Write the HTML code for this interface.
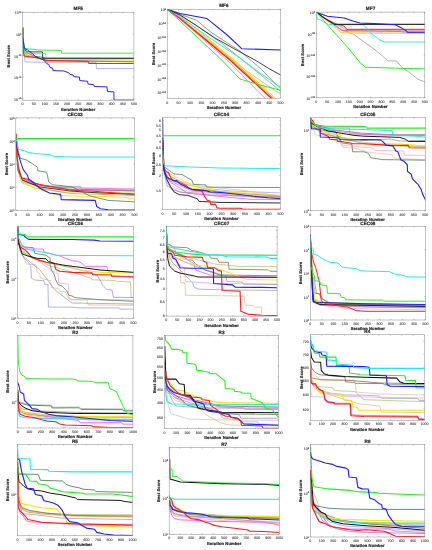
<!DOCTYPE html><html><head><meta charset="utf-8"><style>html,body{margin:0;padding:0;background:#fff;}svg{display:block}text{text-rendering:geometricPrecision;font-family:"Liberation Sans",Arial,sans-serif;fill:#333;stroke:#333;stroke-width:0.08px}.t{font-size:3.6px}.b{font-weight:bold;font-size:4.1px;fill:#262626;stroke:#262626;stroke-width:0.2px;letter-spacing:0.1px}.ti{font-size:4.6px}</style></head><body>
<svg width="432" height="550" viewBox="0 0 432 550">
<rect width="432" height="550" fill="#fff"/><g>
<g><clipPath id="c0"><rect x="22.6" y="12.2" width="111.3" height="88"/></clipPath><g clip-path="url(#c0)" fill="none" stroke-linejoin="round" stroke-linecap="butt"><polyline points="22.9,30 23.6,52 25.2,62 45,62.3 96.2,62.5 96.4,68.5 134.9,68.5" stroke="#8f8fe8" stroke-width="0.62"/><polyline points="22.9,30 23.8,52 25.5,57.5 45,58 45.5,61.5 134.9,61.5" stroke="#d8b890" stroke-width="0.62"/><polyline points="22.9,28 23.6,50 25,56.5 35,57.5 45,60 134.9,61.3" stroke="#e08a2a" stroke-width="0.7"/><polyline points="22.9,28 23.8,50 26,55 40,58 46,60.5 134.9,62" stroke="#8b5a2b" stroke-width="0.62"/><polyline points="22.9,28 23.8,50 25,54 30,55.5 46,58.5 88,59.5 134.9,60.2" stroke="#f5e400" stroke-width="0.88"/><polyline points="22.9,28 23.6,48 25,52 34,56 46,57.8 134.9,58.2" stroke="#4f7f5a" stroke-width="0.79"/><polyline points="22.9,27 23.5,45 25,50 27.5,51.9 42.5,51.9 42.7,58.6 134.9,58.6" stroke="#111111" stroke-width="0.79"/><polyline points="22.9,28 23.5,45 24.5,52 26,53.7 45.6,53.7 46,57.6 134.9,57.6" stroke="#22e8e8" stroke-width="0.88"/><polyline points="22.9,29 23.3,50 24,56 32,57 40,58.5 46,60.5 88.5,61.3 88.6,63.5 134.9,63.5" stroke="#ff1a1a" stroke-width="0.97"/><polyline points="22.9,28 23.5,42 25,48.5 29.4,49 36,49.5 38.75,50 61.25,50.5 61.5,53.2 134.9,53.2" stroke="#22ee22" stroke-width="0.88"/><polyline points="22.7,37.5 24.4,48.1 27.5,50 31.9,53.1 35,56.25 38.75,58.1 42.5,59.4 45,61.25 46.9,63.75 48.75,64.4 50,67.5 52.5,68.1 53.1,70.6 63.75,71 68.75,72.75 70,74.4 73.1,75 73.75,76.6 79.4,77.1 79.75,80.6 87.5,81.25 88.1,84 93.75,84.75 94.4,86.5 107,86.9 107.5,91.5 113.9,91.9 114,100.1 134.9,100.1" stroke="#1f1fff" stroke-width="0.97"/></g><rect x="22.6" y="12.2" width="111.3" height="88" fill="none" stroke="#888888" stroke-width="0.5"/><text class="t" x="22.6" y="105.4" text-anchor="middle">0</text><text class="t" x="33.73" y="105.4" text-anchor="middle">50</text><text class="t" x="44.86" y="105.4" text-anchor="middle">100</text><text class="t" x="55.99" y="105.4" text-anchor="middle">150</text><text class="t" x="67.12" y="105.4" text-anchor="middle">200</text><text class="t" x="78.25" y="105.4" text-anchor="middle">250</text><text class="t" x="89.38" y="105.4" text-anchor="middle">300</text><text class="t" x="100.51" y="105.4" text-anchor="middle">350</text><text class="t" x="111.64" y="105.4" text-anchor="middle">400</text><text class="t" x="122.77" y="105.4" text-anchor="middle">450</text><text class="t" x="133.9" y="105.4" text-anchor="middle">500</text><text class="t" x="21.4" y="14.3" text-anchor="end">10<tspan dy="-1.4" font-size="2.4">10</tspan></text><text class="t" x="21.4" y="36" text-anchor="end">10<tspan dy="-1.4" font-size="2.4">0</tspan></text><text class="t" x="21.4" y="57.6" text-anchor="end">10<tspan dy="-1.4" font-size="2.4">-10</tspan></text><text class="t" x="21.4" y="79.2" text-anchor="end">10<tspan dy="-1.4" font-size="2.4">-20</tspan></text><text class="t" x="21.4" y="100.8" text-anchor="end">10<tspan dy="-1.4" font-size="2.4">-30</tspan></text><path d="M22.6 100.2v-1.1M22.6 12.2v1.1M33.73 100.2v-1.1M33.73 12.2v1.1M44.86 100.2v-1.1M44.86 12.2v1.1M55.99 100.2v-1.1M55.99 12.2v1.1M67.12 100.2v-1.1M67.12 12.2v1.1M78.25 100.2v-1.1M78.25 12.2v1.1M89.38 100.2v-1.1M89.38 12.2v1.1M100.51 100.2v-1.1M100.51 12.2v1.1M111.64 100.2v-1.1M111.64 12.2v1.1M122.77 100.2v-1.1M122.77 12.2v1.1M133.9 100.2v-1.1M133.9 12.2v1.1M22.6 12.3h1.1M133.9 12.3h-1.1M22.6 34h1.1M133.9 34h-1.1M22.6 55.6h1.1M133.9 55.6h-1.1M22.6 77.2h1.1M133.9 77.2h-1.1M22.6 98.8h1.1M133.9 98.8h-1.1" stroke="#888888" stroke-width="0.5" fill="none"/><text class="b" x="78.25" y="110.6" text-anchor="middle">Iteration Number</text><text class="b ti" x="78.25" y="10.2" text-anchor="middle">MF5</text><text class="b" x="10.5" y="56.2" text-anchor="middle" transform="rotate(-90 10.5 56.2)">Best Score</text></g>
<g><clipPath id="c1"><rect x="167.2" y="9.3" width="113.4" height="89.1"/></clipPath><g clip-path="url(#c1)" fill="none" stroke-linejoin="round" stroke-linecap="butt"><polyline points="167.2,9.3 182,17 210,40 245,70 281.6,95" stroke="#a8c060" stroke-width="0.7"/><polyline points="167.2,9.3 180,14.2 196.7,20.4 212,33 240,51 260,68 281.6,90" stroke="#4f7f5a" stroke-width="0.7"/><polyline points="167.2,9.3 182,16.5 200,28 220,42 250,66 281.6,92" stroke="#8a8a8a" stroke-width="0.7"/><polyline points="167.2,9.3 180,14.9 193.9,23.9 214.7,37.8 233.3,48.3 255,60 270,69.2 281.6,75.5" stroke="#111111" stroke-width="0.79"/><polyline points="167.2,9.3 180,17 210,38 240,58 260,73 281.6,88" stroke="#22e8e8" stroke-width="0.97"/><polyline points="167.2,9.3 180,18 232,60 273.5,98.4" stroke="#e08a2a" stroke-width="0.88"/><polyline points="167.2,9.3 180,18 234,60 275.5,98.4" stroke="#f5e400" stroke-width="1.23"/><polyline points="167.2,9.3 180,18.5 230,60 271.7,98.4" stroke="#ff1a1a" stroke-width="1.41"/><polyline points="167.2,9.3 180,19.2 227,60 265,98.4" stroke="#ff4dff" stroke-width="0.7"/><polyline points="167.2,9.3 180,21 221.7,60 240,79 260,85 281.6,90.5" stroke="#22ee22" stroke-width="0.97"/><polyline points="167.2,9.3 180,13.5 207,18.6 227.2,35 241.7,48.7 281.6,50" stroke="#1f1fff" stroke-width="1.06"/></g><rect x="167.2" y="9.3" width="113.4" height="89.1" fill="none" stroke="#888888" stroke-width="0.5"/><text class="t" x="167.2" y="103.6" text-anchor="middle">0</text><text class="t" x="178.54" y="103.6" text-anchor="middle">50</text><text class="t" x="189.88" y="103.6" text-anchor="middle">100</text><text class="t" x="201.22" y="103.6" text-anchor="middle">150</text><text class="t" x="212.56" y="103.6" text-anchor="middle">200</text><text class="t" x="223.9" y="103.6" text-anchor="middle">250</text><text class="t" x="235.24" y="103.6" text-anchor="middle">300</text><text class="t" x="246.58" y="103.6" text-anchor="middle">350</text><text class="t" x="257.92" y="103.6" text-anchor="middle">400</text><text class="t" x="269.26" y="103.6" text-anchor="middle">450</text><text class="t" x="280.6" y="103.6" text-anchor="middle">500</text><text class="t" x="166" y="11.3" text-anchor="end">10<tspan dy="-1.4" font-size="2.4">0</tspan></text><text class="t" x="166" y="25.2" text-anchor="end">10<tspan dy="-1.4" font-size="2.4">-50</tspan></text><text class="t" x="166" y="39" text-anchor="end">10<tspan dy="-1.4" font-size="2.4">-100</tspan></text><text class="t" x="166" y="53" text-anchor="end">10<tspan dy="-1.4" font-size="2.4">-150</tspan></text><text class="t" x="166" y="66.7" text-anchor="end">10<tspan dy="-1.4" font-size="2.4">-200</tspan></text><text class="t" x="166" y="80.6" text-anchor="end">10<tspan dy="-1.4" font-size="2.4">-250</tspan></text><text class="t" x="166" y="94.4" text-anchor="end">10<tspan dy="-1.4" font-size="2.4">-300</tspan></text><path d="M167.2 98.4v-1.1M167.2 9.3v1.1M178.54 98.4v-1.1M178.54 9.3v1.1M189.88 98.4v-1.1M189.88 9.3v1.1M201.22 98.4v-1.1M201.22 9.3v1.1M212.56 98.4v-1.1M212.56 9.3v1.1M223.9 98.4v-1.1M223.9 9.3v1.1M235.24 98.4v-1.1M235.24 9.3v1.1M246.58 98.4v-1.1M246.58 9.3v1.1M257.92 98.4v-1.1M257.92 9.3v1.1M269.26 98.4v-1.1M269.26 9.3v1.1M280.6 98.4v-1.1M280.6 9.3v1.1M167.2 9.3h1.1M280.6 9.3h-1.1M167.2 23.2h1.1M280.6 23.2h-1.1M167.2 37h1.1M280.6 37h-1.1M167.2 51h1.1M280.6 51h-1.1M167.2 64.7h1.1M280.6 64.7h-1.1M167.2 78.6h1.1M280.6 78.6h-1.1M167.2 92.4h1.1M280.6 92.4h-1.1" stroke="#888888" stroke-width="0.5" fill="none"/><text class="b" x="223.9" y="108.8" text-anchor="middle">Iteration Number</text><text class="b ti" x="223.9" y="7.3" text-anchor="middle">MF6</text><text class="b" x="155" y="53.85" text-anchor="middle" transform="rotate(-90 155 53.85)">Best Score</text></g>
<g><clipPath id="c2"><rect x="316.3" y="12.1" width="108.5" height="85.7"/></clipPath><g clip-path="url(#c2)" fill="none" stroke-linejoin="round" stroke-linecap="butt"><polyline points="316.4,12.2 325,19 339.8,28.8 353.7,34.4 366,43.4 373,48.3 381.7,55.3 387.9,60.9 396.3,60.9 402.5,67.8 408.75,72 418,79.25 423.3,81.3 425.8,82.4" stroke="#8a8a8a" stroke-width="0.7"/><polyline points="316.4,12.2 325,19 335,27 342,32.5 425.8,32.8" stroke="#d8b890" stroke-width="0.62"/><polyline points="316.4,12.2 325,19 335,28 341,32.8 371.6,33.5 425.8,33.5" stroke="#f5e400" stroke-width="0.88"/><polyline points="316.4,12.2 326,19 336,26 342,30.5 400,31.5 407.7,32.3 425.8,32.3" stroke="#b070d0" stroke-width="0.97"/><polyline points="316.4,12.2 326,19 335,25 340,29 344,31 425.8,31" stroke="#ff4dff" stroke-width="0.79"/><polyline points="316.4,12.2 326,19 335,24 342,27 346,30 425.8,30" stroke="#e08a2a" stroke-width="0.79"/><polyline points="316.4,12.2 326,19 336,24 344,26 346.7,29.3 425.8,29.3" stroke="#ff1a1a" stroke-width="0.97"/><polyline points="316.4,12.2 317,19 320,19.5 322,21 328.7,24.6 363.4,24.8 367.6,29 371.6,33.7 379.9,40 384,42 425.8,42" stroke="#22e8e8" stroke-width="0.88"/><polyline points="316.4,12.2 324,18 334.2,24.2 425.8,24.2" stroke="#8b5a2b" stroke-width="0.7"/><polyline points="316.4,12.2 324,18 334.5,24.4 425.8,24.4" stroke="#111111" stroke-width="0.88"/><polyline points="316.4,12.2 327.3,16.3 344,18 353.7,21.2 360,23 374.3,23.6 395.2,24.7 400.7,27.4 406.3,30.9 407.7,32.3 425.8,32.3" stroke="#1f1fff" stroke-width="1.06"/><polyline points="316.4,12.2 327.3,24.7 339.8,38.6 348.3,48 360.8,63.6 362.9,64.7 365,67.2 402.5,68.4 425.8,68.8" stroke="#22ee22" stroke-width="0.97"/></g><rect x="316.3" y="12.1" width="108.5" height="85.7" fill="none" stroke="#888888" stroke-width="0.5"/><text class="t" x="316.3" y="103" text-anchor="middle">0</text><text class="t" x="327.15" y="103" text-anchor="middle">50</text><text class="t" x="338" y="103" text-anchor="middle">100</text><text class="t" x="348.85" y="103" text-anchor="middle">150</text><text class="t" x="359.7" y="103" text-anchor="middle">200</text><text class="t" x="370.55" y="103" text-anchor="middle">250</text><text class="t" x="381.4" y="103" text-anchor="middle">300</text><text class="t" x="392.25" y="103" text-anchor="middle">350</text><text class="t" x="403.1" y="103" text-anchor="middle">400</text><text class="t" x="413.95" y="103" text-anchor="middle">450</text><text class="t" x="424.8" y="103" text-anchor="middle">500</text><text class="t" x="315.1" y="14.3" text-anchor="end">10<tspan dy="-1.4" font-size="2.4">0</tspan></text><text class="t" x="315.1" y="35.6" text-anchor="end">10<tspan dy="-1.4" font-size="2.4">-50</tspan></text><text class="t" x="315.1" y="57" text-anchor="end">10<tspan dy="-1.4" font-size="2.4">-100</tspan></text><text class="t" x="315.1" y="78.4" text-anchor="end">10<tspan dy="-1.4" font-size="2.4">-150</tspan></text><text class="t" x="315.1" y="99.8" text-anchor="end">10<tspan dy="-1.4" font-size="2.4">-200</tspan></text><path d="M316.3 97.8v-1.1M316.3 12.1v1.1M327.15 97.8v-1.1M327.15 12.1v1.1M338 97.8v-1.1M338 12.1v1.1M348.85 97.8v-1.1M348.85 12.1v1.1M359.7 97.8v-1.1M359.7 12.1v1.1M370.55 97.8v-1.1M370.55 12.1v1.1M381.4 97.8v-1.1M381.4 12.1v1.1M392.25 97.8v-1.1M392.25 12.1v1.1M403.1 97.8v-1.1M403.1 12.1v1.1M413.95 97.8v-1.1M413.95 12.1v1.1M424.8 97.8v-1.1M424.8 12.1v1.1M316.3 12.3h1.1M424.8 12.3h-1.1M316.3 33.6h1.1M424.8 33.6h-1.1M316.3 55h1.1M424.8 55h-1.1M316.3 76.4h1.1M424.8 76.4h-1.1M316.3 97.8h1.1M424.8 97.8h-1.1" stroke="#888888" stroke-width="0.5" fill="none"/><text class="b" x="370.55" y="108.2" text-anchor="middle">Iteration Number</text><text class="b ti" x="370.55" y="10.1" text-anchor="middle">MF7</text><text class="b" x="303.8" y="54.95" text-anchor="middle" transform="rotate(-90 303.8 54.95)">Best Score</text></g>
<g><clipPath id="c3"><rect x="15.8" y="117.9" width="118.6" height="92.5"/></clipPath><g clip-path="url(#c3)" fill="none" stroke-linejoin="round" stroke-linecap="butt"><polyline points="16,140 17.5,165 20,178 30,183 50,188 80,190 135.4,191.5" stroke="#d8b890" stroke-width="0.62"/><polyline points="16,142 17.5,168 22,182 40,186 70,186.6 80.7,186.6 81.5,189.4 135.4,190" stroke="#8a8a8a" stroke-width="0.62"/><polyline points="16,140 18,170 21,180 40,185 70,188 135.4,190" stroke="#f4a0c8" stroke-width="0.62"/><polyline points="16,142 18,172 22,183 35,188 60,192 135.4,193" stroke="#a8c060" stroke-width="0.62"/><polyline points="16,140 18,168 22,180 40,188 70,193.5 135.4,195.5" stroke="#e08a2a" stroke-width="0.7"/><polyline points="16,138 18,165 21,178 35,184 60,187.5 135.4,189" stroke="#ff4dff" stroke-width="0.79"/><polyline points="16,138 18,165 22,178 40,185 70,189.5 135.4,190.8" stroke="#8b5a2b" stroke-width="0.7"/><polyline points="16,140 18,168 22,180 40,187 70,191 100,193 135.4,194.3" stroke="#111111" stroke-width="0.79"/><polyline points="16,140 18,170 22,182 39.8,189.6 55,195.1 72,196 100.5,196.6 123.4,197.3 135.4,199.2" stroke="#f5e400" stroke-width="0.88"/><polyline points="16,134 18,150 20.3,158.3 25.9,159.7 32.8,163.9 37.7,167.4 37.7,170.8 46.7,172.2 48.8,182 52.3,184.7 72,186.8 90,196 108.2,200.4 135.4,201.9" stroke="#4f7f5a" stroke-width="0.79"/><polyline points="16,133.4 16.9,154.2 18.25,170.8 21.7,177.8 30,179.9 35.6,183.3 46.7,186.1 72,190.3 93,191.2 115.8,193 135.4,194.3" stroke="#ff1a1a" stroke-width="0.97"/><polyline points="16,138 17.6,151.4 20.3,161.1 23.1,169.4 27.3,175 28.7,179.2 35.6,184.7 39.8,188.2 49.5,193 60.6,194.4 61.3,199.7 72,199.9 95.2,200.4 96.7,206.5 100.5,208.8 108.2,209.8 135.4,210" stroke="#1f1fff" stroke-width="1.06"/><polyline points="16,139 16.9,141.8 18.25,149.4 24.5,150.8 27.3,152.2 35.6,153.6 49.5,154.6 53.7,156.4 72,157 135.4,157" stroke="#22e8e8" stroke-width="0.97"/><polyline points="16,138.6 135.4,138.6" stroke="#22ee22" stroke-width="1.06"/></g><rect x="15.8" y="117.9" width="118.6" height="92.5" fill="none" stroke="#888888" stroke-width="0.5"/><text class="t" x="15.8" y="215.6" text-anchor="middle">0</text><text class="t" x="27.66" y="215.6" text-anchor="middle">50</text><text class="t" x="39.52" y="215.6" text-anchor="middle">100</text><text class="t" x="51.38" y="215.6" text-anchor="middle">150</text><text class="t" x="63.24" y="215.6" text-anchor="middle">200</text><text class="t" x="75.1" y="215.6" text-anchor="middle">250</text><text class="t" x="86.96" y="215.6" text-anchor="middle">300</text><text class="t" x="98.82" y="215.6" text-anchor="middle">350</text><text class="t" x="110.68" y="215.6" text-anchor="middle">400</text><text class="t" x="122.54" y="215.6" text-anchor="middle">450</text><text class="t" x="134.4" y="215.6" text-anchor="middle">500</text><text class="t" x="14.6" y="119.9" text-anchor="end">10<tspan dy="-1.4" font-size="2.4">5</tspan></text><text class="t" x="14.6" y="143" text-anchor="end">10<tspan dy="-1.4" font-size="2.4">4</tspan></text><text class="t" x="14.6" y="166.2" text-anchor="end">10<tspan dy="-1.4" font-size="2.4">3</tspan></text><text class="t" x="14.6" y="189.4" text-anchor="end">10<tspan dy="-1.4" font-size="2.4">2</tspan></text><text class="t" x="14.6" y="212.4" text-anchor="end">10<tspan dy="-1.4" font-size="2.4">1</tspan></text><path d="M15.8 210.4v-1.1M15.8 117.9v1.1M27.66 210.4v-1.1M27.66 117.9v1.1M39.52 210.4v-1.1M39.52 117.9v1.1M51.38 210.4v-1.1M51.38 117.9v1.1M63.24 210.4v-1.1M63.24 117.9v1.1M75.1 210.4v-1.1M75.1 117.9v1.1M86.96 210.4v-1.1M86.96 117.9v1.1M98.82 210.4v-1.1M98.82 117.9v1.1M110.68 210.4v-1.1M110.68 117.9v1.1M122.54 210.4v-1.1M122.54 117.9v1.1M134.4 210.4v-1.1M134.4 117.9v1.1M15.8 117.9h1.1M134.4 117.9h-1.1M15.8 141h1.1M134.4 141h-1.1M15.8 164.2h1.1M134.4 164.2h-1.1M15.8 187.4h1.1M134.4 187.4h-1.1M15.8 210.4h1.1M134.4 210.4h-1.1" stroke="#888888" stroke-width="0.5" fill="none"/><text class="b" x="75.1" y="220.8" text-anchor="middle">Iteration Number</text><text class="b ti" x="75.1" y="116.4" text-anchor="middle">CEC03</text><text class="b" x="8.4" y="164.15" text-anchor="middle" transform="rotate(-90 8.4 164.15)">Best Score</text></g>
<g><clipPath id="c4"><rect x="162.4" y="117.75" width="118" height="91.85"/></clipPath><g clip-path="url(#c4)" fill="none" stroke-linejoin="round" stroke-linecap="butt"><polyline points="162.6,140 164,170 167,182 172,190 185,193 218,189.6 232,191 281.4,193" stroke="#8f8fe8" stroke-width="0.62"/><polyline points="162.6,140 164,170 168,178 178,181 200,186 240,190 281.4,196" stroke="#d8b890" stroke-width="0.62"/><polyline points="162.6,142 164.5,172 168,184 180,190 210,194 250,197 281.4,199" stroke="#f4a0c8" stroke-width="0.62"/><polyline points="162.6,140 164,172 167,186 180,192 210,195 281.4,197.5" stroke="#8a8a8a" stroke-width="0.62"/><polyline points="162.6,142 164,170 170,180 190,188 230,193 281.4,196" stroke="#a8c060" stroke-width="0.62"/><polyline points="162.6,140 164,168 170,176 185,184 215,191 281.4,196.5" stroke="#e08a2a" stroke-width="0.7"/><polyline points="162.6,141 164,170 170,181 190,190 230,195 281.4,196.8" stroke="#b070d0" stroke-width="0.7"/><polyline points="162.6,142 164,172 170,182 180,188 187.8,193.3 220,196.4 250,199.3 281.4,199.5" stroke="#ff4dff" stroke-width="0.79"/><polyline points="162.6,140 164.2,171.1 173.9,176 180.8,179.4 193.3,186.4 215.6,189.2 216.9,192 250,193 281.4,195.5" stroke="#f5e400" stroke-width="0.7"/><polyline points="162.6,138 163.5,168.3 166.9,179.4 170.4,186.4 173.9,191.9 179.4,194.7 187.8,195.4 191.9,196.8 197.5,198.9 198.9,201.4 220,202.4 281.4,203" stroke="#111111" stroke-width="0.88"/><polyline points="162.6,140 164.2,166.9 168.3,169.7 173.9,173.9 182.2,174.6 187.8,178 191.9,180.1 193.3,184.3 205.8,185 206.5,187.1 220,187.3 281.4,187.5" stroke="#4f7f5a" stroke-width="0.79"/><polyline points="162.6,137.9 163.5,166.9 165.6,171.1 168.3,172.5 171.1,178 173.9,180.8 178,182.2 182.2,183.6 186.4,185.7 189.2,188.5 193.3,189.9 201.7,190.6 204.4,196.1 207.2,200.3 210,201 210.7,204.4 215.6,204.4 216.9,207.9 220,208.3 240.2,208.3 243.2,209.2 281.4,209.3" stroke="#ff1a1a" stroke-width="1.06"/><polyline points="162.6,117.8 163,150 163.5,165.6 164.9,173.9 166.9,177.4 171.1,179.4 173.9,180.8 176.7,180.6 180.8,184.3 187.8,187.8 191.9,189.2 198.9,189.9 205.8,190.6 210,191.9 220,192.4 241.7,194.8 253.6,196.3 268.4,197.8 281.4,198.8" stroke="#1f1fff" stroke-width="1.14"/><polyline points="162.6,150 163.5,164.2 165.6,165.8 187.8,166.9 220,168 281.4,168.6" stroke="#22e8e8" stroke-width="0.97"/><polyline points="162.6,135.8 281.4,135.8" stroke="#22ee22" stroke-width="1.06"/></g><rect x="162.4" y="117.75" width="118" height="91.85" fill="none" stroke="#888888" stroke-width="0.5"/><text class="t" x="162.4" y="214.8" text-anchor="middle">0</text><text class="t" x="174.2" y="214.8" text-anchor="middle">50</text><text class="t" x="186" y="214.8" text-anchor="middle">100</text><text class="t" x="197.8" y="214.8" text-anchor="middle">150</text><text class="t" x="209.6" y="214.8" text-anchor="middle">200</text><text class="t" x="221.4" y="214.8" text-anchor="middle">250</text><text class="t" x="233.2" y="214.8" text-anchor="middle">300</text><text class="t" x="245" y="214.8" text-anchor="middle">350</text><text class="t" x="256.8" y="214.8" text-anchor="middle">400</text><text class="t" x="268.6" y="214.8" text-anchor="middle">450</text><text class="t" x="280.4" y="214.8" text-anchor="middle">500</text><text class="t" x="160.9" y="122.3" text-anchor="end">6</text><text class="t" x="160.9" y="126.65" text-anchor="end">5.5</text><text class="t" x="160.9" y="131.41" text-anchor="end">5</text><text class="t" x="160.9" y="136.67" text-anchor="end">4.5</text><text class="t" x="160.9" y="142.55" text-anchor="end">4</text><text class="t" x="160.9" y="149.22" text-anchor="end">3.5</text><text class="t" x="160.9" y="156.92" text-anchor="end">3</text><text class="t" x="160.9" y="166.02" text-anchor="end">2.5</text><text class="t" x="160.9" y="177.17" text-anchor="end">2</text><text class="t" x="160.9" y="191.54" text-anchor="end">1.5</text><path d="M162.4 209.6v-1.1M162.4 117.75v1.1M174.2 209.6v-1.1M174.2 117.75v1.1M186 209.6v-1.1M186 117.75v1.1M197.8 209.6v-1.1M197.8 117.75v1.1M209.6 209.6v-1.1M209.6 117.75v1.1M221.4 209.6v-1.1M221.4 117.75v1.1M233.2 209.6v-1.1M233.2 117.75v1.1M245 209.6v-1.1M245 117.75v1.1M256.8 209.6v-1.1M256.8 117.75v1.1M268.6 209.6v-1.1M268.6 117.75v1.1M280.4 209.6v-1.1M280.4 117.75v1.1M162.4 120.6h1.1M280.4 120.6h-1.1M162.4 124.95h1.1M280.4 124.95h-1.1M162.4 129.71h1.1M280.4 129.71h-1.1M162.4 134.97h1.1M280.4 134.97h-1.1M162.4 140.85h1.1M280.4 140.85h-1.1M162.4 147.52h1.1M280.4 147.52h-1.1M162.4 155.22h1.1M280.4 155.22h-1.1M162.4 164.32h1.1M280.4 164.32h-1.1M162.4 175.47h1.1M280.4 175.47h-1.1M162.4 189.84h1.1M280.4 189.84h-1.1" stroke="#888888" stroke-width="0.5" fill="none"/><text class="b" x="221.4" y="220" text-anchor="middle">Iteration Number</text><text class="b ti" x="221.4" y="116.25" text-anchor="middle">CEC04</text><text class="b" x="155" y="163.68" text-anchor="middle" transform="rotate(-90 155 163.68)">Best Score</text></g>
<g><clipPath id="c5"><rect x="310.3" y="117.5" width="115" height="93.25"/></clipPath><g clip-path="url(#c5)" fill="none" stroke-linejoin="round" stroke-linecap="butt"><polyline points="310.4,117.7 311,124 314.1,131 314.9,134.7 320,135.5 335,136.5 341.6,144.4 342.3,147.3 354.9,148.1 364,151 371.4,152.5 378.8,153.3 392.1,154.7 393.6,157.7 400.8,158.7 426.3,159.8" stroke="#d8b890" stroke-width="0.62"/><polyline points="310.4,117.7 311,125 318,128 335,131 341.6,145.1 364,147.3 372.9,148.1 375.1,150.3 403.7,151 404.3,155.3 426.3,155.3" stroke="#f4a0c8" stroke-width="0.7"/><polyline points="310.4,117.7 310.4,127.3 320.8,130.3 335.6,131.8 341.6,142.9 351.9,144.4 352.7,151.8 364,151.8 368.4,153.3 370.7,157.7 375.1,158.4 381.8,159.6 426.3,160.2" stroke="#4f7f5a" stroke-width="0.79"/><polyline points="310.4,117.7 311,126 320,130 334,134 345,139 364,143.8 390,145 426.3,146.5" stroke="#e08a2a" stroke-width="0.62"/><polyline points="310.4,117.7 312,125 320,131 335,137 348,140 364,142.5 390,146 426.3,147" stroke="#a8c060" stroke-width="0.7"/><polyline points="310.4,117.7 311,124 320.8,133.3 335.6,136.2 350,139 364,140.5 390,139 400,141 426.3,140.5" stroke="#8a8a8a" stroke-width="0.7"/><polyline points="310.4,117.7 312,123 318,126 335,130 360,133 390,134.7 426.3,134.7" stroke="#8b5a2b" stroke-width="0.7"/><polyline points="310.4,117.7 311,124 318,127 330,130 345,132.5 364,134.3 392,135 426.3,136" stroke="#8f8fe8" stroke-width="0.7"/><polyline points="310.4,117.7 312,124 318,126 329.7,128 349.7,128 349.7,134 380,135 426.3,135.5" stroke="#ff4dff" stroke-width="0.79"/><polyline points="310.4,117.7 312,125 318,128 328.2,133.3 340.1,134.7 340.4,137.7 350.4,138.4 364,142.9 378.8,143.3 400,144 426.3,146" stroke="#f5e400" stroke-width="0.97"/><polyline points="310.4,117.7 311,123 318,127 328.2,131 341.6,133.3 354.9,135.5 364,136.2 399.6,137.4 405.5,139.2 408.4,141.4 426.3,141.4" stroke="#111111" stroke-width="0.97"/><polyline points="310.4,117.7 312.7,120.7 314.9,124.4 320,125.9 320.8,133.3 328.2,136.2 329.7,139.2 337.1,139.9 337.9,141.4 341.6,141.4 350.4,142.9 351.9,143.6 364,143.8 386.2,145.1 408.4,145.4 409.2,147.8 426.3,148.1" stroke="#ff1a1a" stroke-width="1.06"/><polyline points="310.4,117.7 312,122 318,127 325,128.8 364,129.5 392.1,130.6 392.9,135.5 415.9,136.2 426.3,137.4" stroke="#22e8e8" stroke-width="0.97"/><polyline points="310.4,117.7 311,124 311.5,128.8 320,129.2 320.3,137 327,137.2 337.1,137.7 341,139.5 350,140 364,139.5 380.3,139.9 383.3,142.1 386.2,145.1 392.9,145.9 395.9,151 397.9,151.7 399.7,156.9 400.8,159.8 404.3,161.6 407.2,164.5 407.5,171.4 411.3,174.3 412.4,178.9 415.9,182.4 418.2,184.7 421.1,189.4 422.8,194.6 426.3,201.5" stroke="#1f1fff" stroke-width="1.14"/><polyline points="310.4,117.7 310.4,119.9 314.9,125.1 325.3,126.1 365.3,126.6 367,128.1 426.3,128.1" stroke="#22ee22" stroke-width="1.06"/></g><rect x="310.3" y="117.5" width="115" height="93.25" fill="none" stroke="#888888" stroke-width="0.5"/><text class="t" x="310.3" y="215.95" text-anchor="middle">0</text><text class="t" x="321.8" y="215.95" text-anchor="middle">50</text><text class="t" x="333.3" y="215.95" text-anchor="middle">100</text><text class="t" x="344.8" y="215.95" text-anchor="middle">150</text><text class="t" x="356.3" y="215.95" text-anchor="middle">200</text><text class="t" x="367.8" y="215.95" text-anchor="middle">250</text><text class="t" x="379.3" y="215.95" text-anchor="middle">300</text><text class="t" x="390.8" y="215.95" text-anchor="middle">350</text><text class="t" x="402.3" y="215.95" text-anchor="middle">400</text><text class="t" x="413.8" y="215.95" text-anchor="middle">450</text><text class="t" x="425.3" y="215.95" text-anchor="middle">500</text><text class="t" x="309.1" y="132" text-anchor="end">10<tspan dy="-1.4" font-size="2.4">1</tspan></text><text class="t" x="309.1" y="212.75" text-anchor="end">10<tspan dy="-1.4" font-size="2.4">0</tspan></text><path d="M310.3 210.75v-1.1M310.3 117.5v1.1M321.8 210.75v-1.1M321.8 117.5v1.1M333.3 210.75v-1.1M333.3 117.5v1.1M344.8 210.75v-1.1M344.8 117.5v1.1M356.3 210.75v-1.1M356.3 117.5v1.1M367.8 210.75v-1.1M367.8 117.5v1.1M379.3 210.75v-1.1M379.3 117.5v1.1M390.8 210.75v-1.1M390.8 117.5v1.1M402.3 210.75v-1.1M402.3 117.5v1.1M413.8 210.75v-1.1M413.8 117.5v1.1M425.3 210.75v-1.1M425.3 117.5v1.1M310.3 130h1.1M425.3 130h-1.1M310.3 210.75h1.1M425.3 210.75h-1.1" stroke="#888888" stroke-width="0.5" fill="none"/><text class="b" x="367.8" y="221.15" text-anchor="middle">Iteration Number</text><text class="b ti" x="367.8" y="116" text-anchor="middle">CEC05</text><text class="b" x="302.7" y="164.12" text-anchor="middle" transform="rotate(-90 302.7 164.12)">Best Score</text></g>
<g><clipPath id="c6"><rect x="17.5" y="226.25" width="116" height="92.05"/></clipPath><g clip-path="url(#c6)" fill="none" stroke-linejoin="round" stroke-linecap="butt"><polyline points="17.6,226.3 18.5,240 20,250 24,258 27.9,262 30.7,265.5 31.4,278 34.8,280 43.9,280.75 44.6,284.2 48,284.9 48.4,307.1 72,307.2 80.9,307.9 119.4,307.9 120.1,309.1 134.5,309.1" stroke="#8f8fe8" stroke-width="0.7"/><polyline points="17.6,226.3 18.5,242 21,252 26.5,264 36.2,264.8 36.9,271.7 39.7,273.8 40.4,278 50.8,280.75 51.5,287.7 58.4,288.4 59.8,291.2 65.4,291.9 68.2,297.4 72,299.8 86.8,299.8 88.3,305 134.5,305.3" stroke="#d8b890" stroke-width="0.7"/><polyline points="17.6,226.3 18.5,244 22,255 30,262 40,270 55,290 72,303 134.5,304" stroke="#8a8a8a" stroke-width="0.62"/><polyline points="17.6,226.3 18.5,242 22,252 40,262 55.7,273 58.4,273.8 58.4,282.8 68.2,284.2 68.9,298.8 74,299.5 134.5,300" stroke="#f4a0c8" stroke-width="0.7"/><polyline points="17.6,226.3 18.5,240 21,248 30,256 50,266 72,272 91.3,278.3 92,279.8 115,280.5 116.4,281.3 130.5,282 131.3,297.5 134.5,297.5" stroke="#a8c060" stroke-width="0.7"/><polyline points="17.6,226.3 18.5,240 21,250 30,257 50,263 72,268 90,272 97.2,275.3 100.9,281.3 102.4,285 106.8,289.4 112,290.1 113.5,297.3 134.5,297.5" stroke="#b070d0" stroke-width="0.7"/><polyline points="17.6,226.3 18.2,244.2 23.7,247 33.4,247.7 34.8,253.3 45.9,255.3 50.1,258.1 50.1,264.8 51.5,270.3 54.3,274.5 55.7,280 58.4,284.9 62.6,286.3 66.8,291.2 68.9,295.3 72,296 75,297.6 82.4,298.3 101.6,299.8 134.5,301.3" stroke="#4f7f5a" stroke-width="0.79"/><polyline points="17.6,226.3 18.5,238 22,245 27.9,249 43.2,249 43.9,251.9 60,256 72,260.8 77.9,261.3 80.9,262.7 85.3,266.4 106.8,266.4 107.6,269.4 112,275.3 134.5,277.5" stroke="#ff4dff" stroke-width="0.79"/><polyline points="17.6,226.3 18.5,240 22.3,252.6 30.7,256.7 41.8,260.9 55.7,263.7 69.6,266.4 80,270 100,272.3 134.5,273" stroke="#f5e400" stroke-width="0.97"/><polyline points="17.6,226.3 18.2,240 20.25,247 25.1,249.8 27.9,252.6 32,257.4 39,260.2 45.9,262.3 54.3,263.7 55.7,269.2 59.8,271.3 72,272.4 92,273.1 92.7,274.6 111.3,275 112,276.5 134.5,276.8" stroke="#ff1a1a" stroke-width="1.06"/><polyline points="17.6,226.3 18.2,242.8 19.6,246.3 22.3,254 27.9,256 37.6,258.4 45.9,258.8 48.7,261.6 55.7,263.7 62.6,265 74,266.5 100,270 134.5,272.4" stroke="#111111" stroke-width="0.97"/><polyline points="17.6,226.3 18.2,237.3 19.6,240 22.3,245.6 26.5,249.1 33.4,250.5 41.8,251.9 48.7,253.3 55.7,255.3 134.5,255.8" stroke="#22e8e8" stroke-width="0.97"/><polyline points="17.6,226.3 18.2,234.5 23.7,235.2 25.1,237 28.6,239.4 72,239.5 94.2,240.1 100.1,241 134.5,241.3" stroke="#1f1fff" stroke-width="1.14"/><polyline points="17.6,226.3 18.2,233.8 24.4,234.5 28.6,236.9 134.5,236.9" stroke="#22ee22" stroke-width="1.06"/></g><rect x="17.5" y="226.25" width="116" height="92.05" fill="none" stroke="#888888" stroke-width="0.5"/><text class="t" x="17.5" y="323.5" text-anchor="middle">0</text><text class="t" x="29.1" y="323.5" text-anchor="middle">50</text><text class="t" x="40.7" y="323.5" text-anchor="middle">100</text><text class="t" x="52.3" y="323.5" text-anchor="middle">150</text><text class="t" x="63.9" y="323.5" text-anchor="middle">200</text><text class="t" x="75.5" y="323.5" text-anchor="middle">250</text><text class="t" x="87.1" y="323.5" text-anchor="middle">300</text><text class="t" x="98.7" y="323.5" text-anchor="middle">350</text><text class="t" x="110.3" y="323.5" text-anchor="middle">400</text><text class="t" x="121.9" y="323.5" text-anchor="middle">450</text><text class="t" x="133.5" y="323.5" text-anchor="middle">500</text><text class="t" x="16.3" y="240.75" text-anchor="end">10<tspan dy="-1.4" font-size="2.4">3</tspan></text><text class="t" x="16.3" y="280.8" text-anchor="end">10<tspan dy="-1.4" font-size="2.4">2</tspan></text><text class="t" x="16.3" y="320.3" text-anchor="end">10<tspan dy="-1.4" font-size="2.4">1</tspan></text><path d="M17.5 318.3v-1.1M17.5 226.25v1.1M29.1 318.3v-1.1M29.1 226.25v1.1M40.7 318.3v-1.1M40.7 226.25v1.1M52.3 318.3v-1.1M52.3 226.25v1.1M63.9 318.3v-1.1M63.9 226.25v1.1M75.5 318.3v-1.1M75.5 226.25v1.1M87.1 318.3v-1.1M87.1 226.25v1.1M98.7 318.3v-1.1M98.7 226.25v1.1M110.3 318.3v-1.1M110.3 226.25v1.1M121.9 318.3v-1.1M121.9 226.25v1.1M133.5 318.3v-1.1M133.5 226.25v1.1M17.5 238.75h1.1M133.5 238.75h-1.1M17.5 278.8h1.1M133.5 278.8h-1.1M17.5 318.3h1.1M133.5 318.3h-1.1" stroke="#888888" stroke-width="0.5" fill="none"/><text class="b" x="75.5" y="328.7" text-anchor="middle">Iteration Number</text><text class="b ti" x="75.5" y="224.75" text-anchor="middle">CEC06</text><text class="b" x="9.2" y="272.27" text-anchor="middle" transform="rotate(-90 9.2 272.27)">Best Score</text></g>
<g><clipPath id="c7"><rect x="166.2" y="226.25" width="110.9" height="89.85"/></clipPath><g clip-path="url(#c7)" fill="none" stroke-linejoin="round" stroke-linecap="butt"><polyline points="166.3,226.4 167,245 170.3,263.4 173.1,264.8 180,265.5 180.75,282.8 185,282.8 185.6,295.3 240.8,296 244.3,296.7 245,305 253.3,305.75 254.7,307.1 261.7,307.1 261.7,313.4" stroke="#d8b890" stroke-width="0.7"/><polyline points="166.3,226.4 167,250 172,262 180,270 192.6,282.8 194,287 198.1,289.1 222,289.8 278.1,290.5" stroke="#8a8a8a" stroke-width="0.62"/><polyline points="166.3,226.4 167,248 172,258 184.7,269 185.3,281.5 207,282.8 210,283.5 278.1,284" stroke="#f4a0c8" stroke-width="0.7"/><polyline points="166.3,226.4 167,246 172,256 185,262 200,268 225.6,275.9 227,281.4 242.2,282.1 243.6,284.2 278.1,284.5" stroke="#8f8fe8" stroke-width="0.7"/><polyline points="166.3,226.4 167,244 170.3,244.9 173.1,247 187,247.7 189.8,249.1 191.2,250.5 196.7,251.2 209.2,255.3 210.6,258.1 217.6,258.8 218.9,262.3 228.3,262.3 229,269.2 268.6,269.9 270,271.3 278.1,271.3" stroke="#8b5a2b" stroke-width="0.7"/><polyline points="166.3,226.4 167,247 175,252 190,258 215,264 240,266.4 278.1,266.4" stroke="#a8c060" stroke-width="0.7"/><polyline points="166.3,226.4 167,246 174.5,248.5 176,253 185,258 193.9,263.7 195.3,270 210,275 241,276.5 278.1,277.5" stroke="#ff4dff" stroke-width="0.79"/><polyline points="166.3,226.4 167,248 170.3,251.2 174.5,253.25 182.8,255.3 187,259.5 192.6,260.2 195.3,263.7 205,270 220,275 278.1,275.8" stroke="#4f7f5a" stroke-width="0.79"/><polyline points="166.3,226.4 166.9,249.8 168.25,256 171.7,257.4 177.3,258.8 189.8,259.5 191.2,265 207.8,266.4 222,270 235,275 246.4,279.4 278.1,280" stroke="#f5e400" stroke-width="0.88"/><polyline points="166.3,226.4 167,252 168,260 169.6,266.2 171.7,268.25 174.5,271 180,273.1 185.6,274.2 194,275.9 198.1,277 278.1,277.3" stroke="#111111" stroke-width="0.97"/><polyline points="166.3,226.4 166.9,249.1 167.6,253.25 171.7,253.9 173.1,258.1 175.9,259.5 178,263.7 180,267.8 189.8,268.3 209.2,268.3 213.4,269 213.6,283.5 232.5,284.9 235.3,287.3 261.7,287.4 278.1,287.7" stroke="#1f1fff" stroke-width="1.14"/><polyline points="166.3,226.4 166.9,248.4 170.3,250.5 173.1,251.9 174.5,255.3 187,256.7 202.3,257.4 203.7,261.6 206.4,262.3 207.8,267.8 214.8,267.8 217.6,269.9 221.4,271.3 222.1,290.5 240.1,291.2 240.8,311.3 247.8,314.1 261.7,315.3 278.1,315.5" stroke="#ff1a1a" stroke-width="1.06"/><polyline points="166.3,226.4 166.9,244.2 168.9,249.1 175.9,251.9 189.8,253.9 203.7,255 278.1,255.2" stroke="#22ee22" stroke-width="1.06"/><polyline points="166.3,226.4 166.9,242.8 168.9,244.9 175.9,248.4 189.8,251.2 202.3,253.25 203.7,254.6 220,255 227,256.7 267.2,257 270,258.4 278.1,258.4" stroke="#22e8e8" stroke-width="1.06"/></g><rect x="166.2" y="226.25" width="110.9" height="89.85" fill="none" stroke="#888888" stroke-width="0.5"/><text class="t" x="166.2" y="321.3" text-anchor="middle">0</text><text class="t" x="177.29" y="321.3" text-anchor="middle">50</text><text class="t" x="188.38" y="321.3" text-anchor="middle">100</text><text class="t" x="199.47" y="321.3" text-anchor="middle">150</text><text class="t" x="210.56" y="321.3" text-anchor="middle">200</text><text class="t" x="221.65" y="321.3" text-anchor="middle">250</text><text class="t" x="232.74" y="321.3" text-anchor="middle">300</text><text class="t" x="243.83" y="321.3" text-anchor="middle">350</text><text class="t" x="254.92" y="321.3" text-anchor="middle">400</text><text class="t" x="266.01" y="321.3" text-anchor="middle">450</text><text class="t" x="277.1" y="321.3" text-anchor="middle">500</text><text class="t" x="164.7" y="232.3" text-anchor="end">7.5</text><text class="t" x="164.7" y="238.68" text-anchor="end">7</text><text class="t" x="164.7" y="245.54" text-anchor="end">6.5</text><text class="t" x="164.7" y="252.94" text-anchor="end">6</text><text class="t" x="164.7" y="260.99" text-anchor="end">5.5</text><text class="t" x="164.7" y="269.81" text-anchor="end">5</text><text class="t" x="164.7" y="279.55" text-anchor="end">4.5</text><text class="t" x="164.7" y="290.45" text-anchor="end">4</text><text class="t" x="164.7" y="302.8" text-anchor="end">3.5</text><text class="t" x="164.7" y="317.06" text-anchor="end">3</text><path d="M166.2 316.1v-1.1M166.2 226.25v1.1M177.29 316.1v-1.1M177.29 226.25v1.1M188.38 316.1v-1.1M188.38 226.25v1.1M199.47 316.1v-1.1M199.47 226.25v1.1M210.56 316.1v-1.1M210.56 226.25v1.1M221.65 316.1v-1.1M221.65 226.25v1.1M232.74 316.1v-1.1M232.74 226.25v1.1M243.83 316.1v-1.1M243.83 226.25v1.1M254.92 316.1v-1.1M254.92 226.25v1.1M266.01 316.1v-1.1M266.01 226.25v1.1M277.1 316.1v-1.1M277.1 226.25v1.1M166.2 230.6h1.1M277.1 230.6h-1.1M166.2 236.98h1.1M277.1 236.98h-1.1M166.2 243.84h1.1M277.1 243.84h-1.1M166.2 251.24h1.1M277.1 251.24h-1.1M166.2 259.29h1.1M277.1 259.29h-1.1M166.2 268.11h1.1M277.1 268.11h-1.1M166.2 277.85h1.1M277.1 277.85h-1.1M166.2 288.75h1.1M277.1 288.75h-1.1M166.2 301.1h1.1M277.1 301.1h-1.1M166.2 315.36h1.1M277.1 315.36h-1.1" stroke="#888888" stroke-width="0.5" fill="none"/><text class="b" x="221.65" y="326.5" text-anchor="middle">Iteration Number</text><text class="b ti" x="221.65" y="224.75" text-anchor="middle">CEC07</text><text class="b" x="158.7" y="271.18" text-anchor="middle" transform="rotate(-90 158.7 271.18)">Best Score</text></g>
<g><clipPath id="c8"><rect x="310.25" y="226.25" width="115.25" height="93.75"/></clipPath><g clip-path="url(#c8)" fill="none" stroke-linejoin="round" stroke-linecap="butt"><polyline points="310.4,236 311.5,270 313,298 316,304 340,306.5 426.5,307.5" stroke="#d8b890" stroke-width="0.62"/><polyline points="310.4,238 311.8,275 313.5,300 318,305 350,308.5 426.5,309.8" stroke="#f4a0c8" stroke-width="0.7"/><polyline points="310.4,236 311.5,270 313,299 320,304.5 360,307 426.5,308" stroke="#8f8fe8" stroke-width="0.62"/><polyline points="310.4,236 311.5,272 313,302 325,304.8 426.5,306" stroke="#a8c060" stroke-width="0.7"/><polyline points="310.4,236 311.6,270 313.2,300 320,305 380,307 426.5,307.5" stroke="#b070d0" stroke-width="0.7"/><polyline points="310.4,236 311.6,270 313.5,300 322,304 380,305.5 426.5,306" stroke="#8b5a2b" stroke-width="0.7"/><polyline points="310.4,238 312,275 314,299 322,302.5 360,304.5 426.5,305.5" stroke="#e08a2a" stroke-width="0.7"/><polyline points="310.4,240 312.5,276 314.5,281 316.5,293.3 320,294 322.8,298.8 330,303 426.5,305" stroke="#8a8a8a" stroke-width="0.7"/><polyline points="310.4,240 312.5,276 314.5,293 319,293.7 322,299 330,303.5 426.5,305" stroke="#4f7f5a" stroke-width="0.79"/><polyline points="310.4,238 312,270 313.6,282.8 315,300.9 333.8,303 380,304 426.5,304.8" stroke="#f5e400" stroke-width="0.88"/><polyline points="310.4,234 311.5,265 312.5,290 313.5,302 320,304.5 426.5,306.5" stroke="#111111" stroke-width="0.88"/><polyline points="310.4,235 310.9,262 312.9,300.9 315.7,302.3 366,303.9 426.5,304.6" stroke="#1f1fff" stroke-width="1.06"/><polyline points="310.4,240 310.9,249.8 313.6,262 315.7,267.6 317.8,275.9 319.2,281.4 320.6,294 321.3,300.9 325.4,303.7 347.7,307.1 356,310.6 366,311.3 426.5,311.3" stroke="#ff1a1a" stroke-width="0.97"/><polyline points="310.4,245 310.9,266.2 312.9,273.1 314.3,275.9 315,280.75 319.9,281.4 320.6,284.9 326.8,285.6 327.5,293.25 340,293.7 341.4,297.4 344.9,297.8 345.6,299.8 366,300 382.5,300.1 384,301.2 426.5,301.2" stroke="#22ee22" stroke-width="0.97"/><polyline points="310.4,235.9 310.9,246.3 312.9,248.4 313.6,254 317.1,255.3 322.7,258.8 329.6,262.3 337.9,263 342.1,267.1 347.7,267.8 356,268.5 360.2,270.6 364,271 389.2,271.6 395.1,274.2 401,275 408.4,276.9 426.5,277.2" stroke="#22e8e8" stroke-width="0.97"/></g><rect x="310.25" y="226.25" width="115.25" height="93.75" fill="none" stroke="#888888" stroke-width="0.5"/><text class="t" x="310.25" y="325.2" text-anchor="middle">0</text><text class="t" x="321.77" y="325.2" text-anchor="middle">50</text><text class="t" x="333.3" y="325.2" text-anchor="middle">100</text><text class="t" x="344.82" y="325.2" text-anchor="middle">150</text><text class="t" x="356.35" y="325.2" text-anchor="middle">200</text><text class="t" x="367.88" y="325.2" text-anchor="middle">250</text><text class="t" x="379.4" y="325.2" text-anchor="middle">300</text><text class="t" x="390.93" y="325.2" text-anchor="middle">350</text><text class="t" x="402.45" y="325.2" text-anchor="middle">400</text><text class="t" x="413.98" y="325.2" text-anchor="middle">450</text><text class="t" x="425.5" y="325.2" text-anchor="middle">500</text><text class="t" x="309.05" y="228.25" text-anchor="end">10<tspan dy="-1.4" font-size="2.4">4</tspan></text><text class="t" x="309.05" y="251.7" text-anchor="end">10<tspan dy="-1.4" font-size="2.4">3</tspan></text><text class="t" x="309.05" y="275.1" text-anchor="end">10<tspan dy="-1.4" font-size="2.4">2</tspan></text><text class="t" x="309.05" y="298.5" text-anchor="end">10<tspan dy="-1.4" font-size="2.4">1</tspan></text><text class="t" x="309.05" y="322" text-anchor="end">10<tspan dy="-1.4" font-size="2.4">0</tspan></text><path d="M310.25 320v-1.1M310.25 226.25v1.1M321.77 320v-1.1M321.77 226.25v1.1M333.3 320v-1.1M333.3 226.25v1.1M344.82 320v-1.1M344.82 226.25v1.1M356.35 320v-1.1M356.35 226.25v1.1M367.88 320v-1.1M367.88 226.25v1.1M379.4 320v-1.1M379.4 226.25v1.1M390.93 320v-1.1M390.93 226.25v1.1M402.45 320v-1.1M402.45 226.25v1.1M413.98 320v-1.1M413.98 226.25v1.1M425.5 320v-1.1M425.5 226.25v1.1M310.25 226.25h1.1M425.5 226.25h-1.1M310.25 249.7h1.1M425.5 249.7h-1.1M310.25 273.1h1.1M425.5 273.1h-1.1M310.25 296.5h1.1M425.5 296.5h-1.1M310.25 320h1.1M425.5 320h-1.1" stroke="#888888" stroke-width="0.5" fill="none"/><text class="b" x="367.88" y="330.4" text-anchor="middle">Iteration Number</text><text class="b ti" x="367.88" y="224.75" text-anchor="middle">CEC08</text><text class="b" x="302.2" y="273.12" text-anchor="middle" transform="rotate(-90 302.2 273.12)">Best Score</text></g>
<g><clipPath id="c9"><rect x="17.7" y="335.25" width="115.2" height="92.75"/></clipPath><g clip-path="url(#c9)" fill="none" stroke-linejoin="round" stroke-linecap="butt"><polyline points="17.8,392 18.5,401.5 27.9,404.4 51.5,405.1 52.2,407.2 72,407.1 79.4,407.1 80.9,408.5 122.4,408.9 123.9,410.1 133.9,410.1" stroke="#bdbdbd" stroke-width="0.88"/><polyline points="17.8,395 18.5,405 22,409 40,411 80,412.5 133.9,413" stroke="#8a8a8a" stroke-width="0.7"/><polyline points="17.8,398 18.5,408 24,413 50,416.5 80,419 133.9,419.8" stroke="#8f8fe8" stroke-width="0.7"/><polyline points="17.8,400 18.8,410 25,414 50,416 100,417 133.9,417.5" stroke="#a8c060" stroke-width="0.7"/><polyline points="17.8,398 18.8,409 24,412 45,415 80,416.6 133.9,417.2" stroke="#e08a2a" stroke-width="0.79"/><polyline points="17.8,400 19,411 26,415 50,418 90,420 133.9,421.5" stroke="#f4a0c8" stroke-width="0.7"/><polyline points="17.8,398 19,410 25,413.5 50,417 78.7,420.5 80.1,422.7 120.9,422.7 123.1,424.2 133.9,424.2" stroke="#ff4dff" stroke-width="0.79"/><polyline points="17.8,396 19.6,407.25 22.3,412.1 34.8,414.2 74,416 133.9,417" stroke="#f5e400" stroke-width="1.06"/><polyline points="17.8,402 18.2,408.6 19.6,416.3 25.1,417.7 41.8,418.4 74,419 133.9,419.3" stroke="#22e8e8" stroke-width="1.06"/><polyline points="17.8,392 18.2,402.4 27.9,405.2 51.5,405.9 52.2,408 72,407.8 79.4,407.9 80.9,409.4 122.4,409.7 123.9,410.9 133.9,410.9" stroke="#4f7f5a" stroke-width="0.88"/><polyline points="17.9,389.9 18.2,401 20.9,405.2 25.1,408 32,410.7 41.8,412.1 74,413.5 133.9,413.6" stroke="#111111" stroke-width="0.97"/><polyline points="17.5,381.6 18.9,385.7 20.25,392 23.7,394 24.4,400.3 27.2,403.1 29.3,405.2 32,408.6 37.6,409.3 40.4,411.4 44.6,412.8 48.7,414.2 55.7,415.6 74,417 110.5,420.5 133.9,421.3" stroke="#1f1fff" stroke-width="1.06"/><polyline points="17.9,399.6 18.9,410.7 20.25,414.2 25.1,416.3 34.8,417.7 41.8,419.75 47.3,421.1 55.7,421.8 59.8,423.9 65.4,425 91.3,425.7 94.2,426.9 106.1,427.2 107.6,427.8 133.9,427.8" stroke="#ff1a1a" stroke-width="1.06"/><polyline points="17.75,335.5 18.2,359.8 19.6,370.9 21.6,375.1 24.4,376.2 25.8,378.5 41.8,378.9 72,379 76.4,379.5 77.2,381 93.5,381.3 94.2,382.7 108.3,382.7 109.8,388.7 113.5,390.1 116.4,391.6 119.4,398.3 123.1,406.4 126.8,413.1 133.9,415.3" stroke="#22ee22" stroke-width="0.97"/></g><rect x="17.7" y="335.25" width="115.2" height="92.75" fill="none" stroke="#888888" stroke-width="0.5"/><text class="t" x="17.7" y="433.2" text-anchor="middle">0</text><text class="t" x="29.22" y="433.2" text-anchor="middle">100</text><text class="t" x="40.74" y="433.2" text-anchor="middle">200</text><text class="t" x="52.26" y="433.2" text-anchor="middle">300</text><text class="t" x="63.78" y="433.2" text-anchor="middle">400</text><text class="t" x="75.3" y="433.2" text-anchor="middle">500</text><text class="t" x="86.82" y="433.2" text-anchor="middle">600</text><text class="t" x="98.34" y="433.2" text-anchor="middle">700</text><text class="t" x="109.86" y="433.2" text-anchor="middle">800</text><text class="t" x="121.38" y="433.2" text-anchor="middle">900</text><text class="t" x="132.9" y="433.2" text-anchor="middle">1000</text><text class="t" x="16.5" y="403.5" text-anchor="end">10<tspan dy="-1.4" font-size="2.4">2</tspan></text><path d="M17.7 428v-1.1M17.7 335.25v1.1M29.22 428v-1.1M29.22 335.25v1.1M40.74 428v-1.1M40.74 335.25v1.1M52.26 428v-1.1M52.26 335.25v1.1M63.78 428v-1.1M63.78 335.25v1.1M75.3 428v-1.1M75.3 335.25v1.1M86.82 428v-1.1M86.82 335.25v1.1M98.34 428v-1.1M98.34 335.25v1.1M109.86 428v-1.1M109.86 335.25v1.1M121.38 428v-1.1M121.38 335.25v1.1M132.9 428v-1.1M132.9 335.25v1.1M17.7 401.5h1.1M132.9 401.5h-1.1" stroke="#888888" stroke-width="0.5" fill="none"/><text class="b" x="75.3" y="438.4" text-anchor="middle">Iteration Number</text><text class="b ti" x="75.3" y="333.75" text-anchor="middle">R2</text><text class="b" x="9.2" y="381.62" text-anchor="middle" transform="rotate(-90 9.2 381.62)">Best Score</text></g>
<g><clipPath id="c10"><rect x="164.6" y="335.25" width="113.9" height="93.25"/></clipPath><g clip-path="url(#c10)" fill="none" stroke-linejoin="round" stroke-linecap="butt"><polyline points="164.8,360 167,395 168.25,405.3 171,413.7 180,416.4 189.8,419.2 222,419.9 279.5,420.5" stroke="#bdbdbd" stroke-width="0.62"/><polyline points="164.8,362 167,392 175,400 187,404.6 200.9,409.5 206.4,415 222,423.4 230,425 279.5,426" stroke="#d8b890" stroke-width="0.7"/><polyline points="164.8,362 167,390 175,398 187,404 210,408 220,414 222.8,418.3 228.3,419 239.4,419.7 243.6,421.8 257.5,421.8 258.9,424 279.5,424.5" stroke="#a8c060" stroke-width="0.7"/><polyline points="164.8,362 167,388 172,400 176,406 195,407.5 210,408 279.5,408.5" stroke="#8f8fe8" stroke-width="0.7"/><polyline points="164.8,362 167,388 175,396 195,402 220,406 245,407 279.5,407.5" stroke="#f4a0c8" stroke-width="0.7"/><polyline points="164.8,362 167,386 176,393 195,400 220,405.8 245,406.5 279.5,407" stroke="#8b5a2b" stroke-width="0.7"/><polyline points="164.8,362 167,388 176,396 195,401 220,407 243.6,408 245,409.3 279.5,409.3" stroke="#ff4dff" stroke-width="0.79"/><polyline points="164.8,362 167,390 176,398 200,406 220,412 239.4,414.9 240.8,418.3 277,418.3 279.5,421" stroke="#b070d0" stroke-width="0.7"/><polyline points="164.8,362 167,390 180,398 187,405.3 203.7,408.8 222,413.7 240,414 279.5,414.5" stroke="#4f7f5a" stroke-width="0.79"/><polyline points="164.8,360 166.2,380.3 170.3,383.1 174.5,389.4 182.8,390.75 189.8,394.2 203.7,399.1 214.8,401.9 222,402.6 262,403 279.5,403.5" stroke="#f5e400" stroke-width="1.06"/><polyline points="164.8,375 165.5,390.1 166.9,401.2 171.7,404 189.8,404.2 279.5,404.5" stroke="#22e8e8" stroke-width="1.06"/><polyline points="164.8,345.9 165.9,377.8 166.9,379.1 175.9,379.1 179.4,383.8 184.2,384.5 184.9,394.9 190.5,395.6 195.3,402.6 198.1,408.1 203.7,409.5 209.2,410.2 222,412.3 279.5,412.8" stroke="#111111" stroke-width="1.06"/><polyline points="164.8,372 165.5,380.3 166.9,385.9 170.3,390.1 174.5,392.8 180,394.2 189.8,397 193.9,401.2 199.5,402.6 203.7,404 205,408.1 207.8,410.9 212,411.6 217.6,412.3 222,413.2 228.3,414.2 231.1,417 238,418.3 240.8,421.1 243.6,423.9 279.5,425.3" stroke="#1f1fff" stroke-width="1.14"/><polyline points="164.8,370 165.5,374.8 167.6,380.3 170.3,385.9 178.7,393.5 191.2,397 200.9,397.7 202.3,399.8 209.2,400.5 210.6,405.3 213.4,407.4 217.6,410.2 220,413.5 225.6,416.25 229.7,416.25 231.1,417.6 238,419 240.8,421.1 241.5,425.3 261.7,426 263,428 279.5,428.3" stroke="#ff1a1a" stroke-width="1.06"/><polyline points="165,335 165.5,340.3 167.6,342.4 170.3,345.9 171.7,349.4 178.7,349.4 182.8,350.75 182.8,352.8 186.7,352.8 187,363.25 193.9,364 196,365.3 196.7,370.2 202.3,370.9 209.2,372.3 209.9,373.7 216.2,373.7 222.8,379.4 224.9,380.8 225.3,388.5 233.9,389.2 234.6,391.25 240.8,392 242.2,393 250.6,393.3 251.25,398.2 256.1,400.3 261.7,402.4 264.4,405.8 265.8,408.6 272.8,410 275.6,414.2 279.5,418.3" stroke="#22ee22" stroke-width="1.06"/></g><rect x="164.6" y="335.25" width="113.9" height="93.25" fill="none" stroke="#888888" stroke-width="0.5"/><text class="t" x="164.6" y="433.7" text-anchor="middle">0</text><text class="t" x="175.99" y="433.7" text-anchor="middle">100</text><text class="t" x="187.38" y="433.7" text-anchor="middle">200</text><text class="t" x="198.77" y="433.7" text-anchor="middle">300</text><text class="t" x="210.16" y="433.7" text-anchor="middle">400</text><text class="t" x="221.55" y="433.7" text-anchor="middle">500</text><text class="t" x="232.94" y="433.7" text-anchor="middle">600</text><text class="t" x="244.33" y="433.7" text-anchor="middle">700</text><text class="t" x="255.72" y="433.7" text-anchor="middle">800</text><text class="t" x="267.11" y="433.7" text-anchor="middle">900</text><text class="t" x="278.5" y="433.7" text-anchor="middle">1000</text><text class="t" x="163.1" y="340.2" text-anchor="end">700</text><text class="t" x="163.1" y="348.65" text-anchor="end">650</text><text class="t" x="163.1" y="357.77" text-anchor="end">600</text><text class="t" x="163.1" y="367.68" text-anchor="end">550</text><text class="t" x="163.1" y="378.54" text-anchor="end">500</text><text class="t" x="163.1" y="390.55" text-anchor="end">450</text><text class="t" x="163.1" y="403.97" text-anchor="end">400</text><text class="t" x="163.1" y="419.19" text-anchor="end">350</text><path d="M164.6 428.5v-1.1M164.6 335.25v1.1M175.99 428.5v-1.1M175.99 335.25v1.1M187.38 428.5v-1.1M187.38 335.25v1.1M198.77 428.5v-1.1M198.77 335.25v1.1M210.16 428.5v-1.1M210.16 335.25v1.1M221.55 428.5v-1.1M221.55 335.25v1.1M232.94 428.5v-1.1M232.94 335.25v1.1M244.33 428.5v-1.1M244.33 335.25v1.1M255.72 428.5v-1.1M255.72 335.25v1.1M267.11 428.5v-1.1M267.11 335.25v1.1M278.5 428.5v-1.1M278.5 335.25v1.1M164.6 338.5h1.1M278.5 338.5h-1.1M164.6 346.95h1.1M278.5 346.95h-1.1M164.6 356.07h1.1M278.5 356.07h-1.1M164.6 365.98h1.1M278.5 365.98h-1.1M164.6 376.84h1.1M278.5 376.84h-1.1M164.6 388.85h1.1M278.5 388.85h-1.1M164.6 402.27h1.1M278.5 402.27h-1.1M164.6 417.49h1.1M278.5 417.49h-1.1" stroke="#888888" stroke-width="0.5" fill="none"/><text class="b" x="221.55" y="438.9" text-anchor="middle">Iteration Number</text><text class="b ti" x="221.55" y="333.75" text-anchor="middle">R3</text><text class="b" x="156" y="381.88" text-anchor="middle" transform="rotate(-90 156 381.88)">Best Score</text></g>
<g><clipPath id="c11"><rect x="310.25" y="334.75" width="114.25" height="85.5"/></clipPath><g clip-path="url(#c11)" fill="none" stroke-linejoin="round" stroke-linecap="butt"><polyline points="310.4,372 311,396.7 324,396.9" stroke="#8a8a8a" stroke-width="0.44"/><polyline points="310.4,360 311,380 314,388 320,392 330,395 360,404 380,406 381,412 425.5,412.6" stroke="#d8b890" stroke-width="0.7"/><polyline points="310.4,355 311,372 320.6,379.7 355,380.4 356,392 380,394 425.5,395" stroke="#d8b890" stroke-width="0.62"/><polyline points="310.4,360 311.5,380 318,386.7 332.4,387.4 333.8,390.1 338,390.8 354.6,391.5 364,399.7 408.8,401.2 425.5,401.5" stroke="#a8c060" stroke-width="0.7"/><polyline points="310.4,362 311.5,382 318,390 330,393 344.9,395 364,395.2 378.9,396 381.9,398.2 417.7,398.5 419.2,400.4 425.5,400.4" stroke="#8f8fe8" stroke-width="0.7"/><polyline points="310.4,362 311.5,384 320,392 340,396 364,397 425.5,398" stroke="#f4a0c8" stroke-width="0.7"/><polyline points="310.4,358 311.5,378 320.6,379.7 350,380.4 380,383 425.5,383.8" stroke="#8b5a2b" stroke-width="0.7"/><polyline points="310.4,362 311.6,368 314.3,371.5 318,374 321.3,374.9 344.9,376.9 345.6,381.8 354.6,382.5 355.3,383.3 383.4,383.6 384.1,384.8 425.5,384.8" stroke="#4f7f5a" stroke-width="0.79"/><polyline points="310.4,366 311.5,380 315,386 318.5,390.8 319.9,392.9 342.1,394.3 343.5,399.9 351.8,400.6 353.2,406.8 357.4,407.5 358.8,410.3 425.5,410.3" stroke="#f5e400" stroke-width="1.06"/><polyline points="310.4,368 311,383 313,384.5 316,385 318.5,389 322.7,391.5 324.1,395 325.5,401.5 328.2,403 350,403.5 350.5,414.8 364,415.4 417.7,416.1 419.2,419.1 425.5,419.1" stroke="#ff4dff" stroke-width="0.88"/><polyline points="310.4,370 310.9,382.5 312.9,383.9 315.7,383.9 316.4,386.7 318.5,388.1 319.2,389.4 322.7,390.8 324.1,394.3 324.75,399.2 328.2,401.9 333.8,402.6 334.5,404 350.4,404 351.1,415.8 364,416.5 417.7,416.9 418.5,419.1 425.5,419.6" stroke="#ff1a1a" stroke-width="1.14"/><polyline points="310.4,349.4 311.6,357.8 314.3,362 320.6,362.2 321.3,370.3 324.1,373.75 328.2,375.1 344.9,376.5 364,377.3 396.8,378.1 399.8,381.8 403.6,383.3 425.5,383.6" stroke="#111111" stroke-width="1.06"/><polyline points="310.4,338 310.9,343.9 312.9,345.3 314.3,352.9 319.2,353.6 319.9,357.1 335.9,357.1 336.6,365.4 349,365.8 349.75,373 358.8,374.2 360.2,374.7 405,375.8 405.8,380.3 415.5,380.6 416.2,387.8 425.5,388.1" stroke="#22ee22" stroke-width="1.06"/><polyline points="310.4,340 310.9,345.3 311.6,348 315,351.5 321.3,352.9 322,355 326.1,355.7 326.8,366.1 364,366.6 369.2,367.2 370,375.1 386.4,375.8 387.1,384.8 390.1,386.3 425.5,386.6" stroke="#1f1fff" stroke-width="1.14"/><polyline points="310.4,334.9 310.9,342.5 312.25,345.3 314.3,350.8 326.8,352.2 327.5,359.9 335.9,360.6 336.6,364 353.2,365.4 353.9,367.5 370,368.4 425.5,368.4" stroke="#22e8e8" stroke-width="1.06"/></g><rect x="310.25" y="334.75" width="114.25" height="85.5" fill="none" stroke="#888888" stroke-width="0.5"/><text class="t" x="310.25" y="425.45" text-anchor="middle">0</text><text class="t" x="321.68" y="425.45" text-anchor="middle">100</text><text class="t" x="333.1" y="425.45" text-anchor="middle">200</text><text class="t" x="344.52" y="425.45" text-anchor="middle">300</text><text class="t" x="355.95" y="425.45" text-anchor="middle">400</text><text class="t" x="367.38" y="425.45" text-anchor="middle">500</text><text class="t" x="378.8" y="425.45" text-anchor="middle">600</text><text class="t" x="390.23" y="425.45" text-anchor="middle">700</text><text class="t" x="401.65" y="425.45" text-anchor="middle">800</text><text class="t" x="413.07" y="425.45" text-anchor="middle">900</text><text class="t" x="424.5" y="425.45" text-anchor="middle">1000</text><text class="t" x="308.75" y="342.95" text-anchor="end">720</text><text class="t" x="308.75" y="355.7" text-anchor="end">700</text><text class="t" x="308.75" y="368.82" text-anchor="end">680</text><text class="t" x="308.75" y="382.33" text-anchor="end">660</text><text class="t" x="308.75" y="396.25" text-anchor="end">640</text><text class="t" x="308.75" y="410.62" text-anchor="end">620</text><path d="M310.25 420.25v-1.1M310.25 334.75v1.1M321.68 420.25v-1.1M321.68 334.75v1.1M333.1 420.25v-1.1M333.1 334.75v1.1M344.52 420.25v-1.1M344.52 334.75v1.1M355.95 420.25v-1.1M355.95 334.75v1.1M367.38 420.25v-1.1M367.38 334.75v1.1M378.8 420.25v-1.1M378.8 334.75v1.1M390.23 420.25v-1.1M390.23 334.75v1.1M401.65 420.25v-1.1M401.65 334.75v1.1M413.07 420.25v-1.1M413.07 334.75v1.1M424.5 420.25v-1.1M424.5 334.75v1.1M310.25 341.25h1.1M424.5 341.25h-1.1M310.25 354h1.1M424.5 354h-1.1M310.25 367.12h1.1M424.5 367.12h-1.1M310.25 380.63h1.1M424.5 380.63h-1.1M310.25 394.55h1.1M424.5 394.55h-1.1M310.25 408.92h1.1M424.5 408.92h-1.1" stroke="#888888" stroke-width="0.5" fill="none"/><text class="b" x="367.38" y="430.65" text-anchor="middle">Iteration Number</text><text class="b ti" x="367.38" y="333.25" text-anchor="middle">R4</text><text class="b" x="302.7" y="377.5" text-anchor="middle" transform="rotate(-90 302.7 377.5)">Best Score</text></g>
<g><clipPath id="c12"><rect x="17.5" y="444.4" width="115" height="91.35"/></clipPath><g clip-path="url(#c12)" fill="none" stroke-linejoin="round" stroke-linecap="butt"><polyline points="17.6,470 18.3,500 22.3,513.5 41.8,515.5 61,518 74,518.5 133.5,519.5" stroke="#8f8fe8" stroke-width="0.7"/><polyline points="17.6,470 18.5,500 21,508 27.9,511.5 41.8,513 59.8,514.2 74,515 133.5,515.5" stroke="#d8b890" stroke-width="0.7"/><polyline points="17.6,470 18.5,498 21,506 30,511 50,513.5 74,514.5 133.5,514.8" stroke="#a8c060" stroke-width="0.7"/><polyline points="17.6,472 18.5,502 21,509 27.9,512.2 41.8,514 59.8,515.3 74,516 133.5,517" stroke="#e08a2a" stroke-width="0.7"/><polyline points="17.6,470 18.5,500 22,508 30,510.5 45,513 74,515.5 133.5,516.2" stroke="#8b5a2b" stroke-width="0.7"/><polyline points="17.6,480 18.2,507 20,513 22.3,515 26.5,521 29.4,521.6 41.8,522.5 74,524.5 133.5,525" stroke="#ff4dff" stroke-width="0.79"/><polyline points="17.6,475 18.2,494.5 21.6,503.5 27.9,504.9 41.8,507.7 57.1,509.1 59.8,512.6 65.4,518.1 66.8,522.3 72,524.9 133.5,527.3" stroke="#f5e400" stroke-width="1.06"/><polyline points="17.5,462.2 18.2,474 38.3,474.4 40.4,480.3 62.6,481 66.1,484.4 72,486.5 78.4,487.6 83.2,489.2 94.4,490 96,491.6 133.5,492.4" stroke="#4f7f5a" stroke-width="0.88"/><polyline points="17.5,467.8 18.9,481.7 20.25,482.5 23.7,486.2 27.9,488.9 34.8,490.3 41.8,491 50.1,493.1 59.8,494.5 66.8,495.9 72,497.2 75.2,497.7 77.6,499.6 120,500.4 124.8,501.5 133.5,502.5" stroke="#111111" stroke-width="0.97"/><polyline points="17.5,460.8 18.9,474 25.8,474.4 27.9,477.5 30,481 36.9,481.4 38.3,483.75 47.3,485.3 50.1,487.9 55.7,489.6 62.6,491.7 72,492.4 83.2,493.2 84,494 112,494 120,494.8 133.5,496.7" stroke="#22ee22" stroke-width="1.06"/><polyline points="17.5,450 18.2,507 20.25,511.2 25.1,516 27.9,519.5 41.8,522.3 55.7,523 72,523.6 78.4,523.9 133.5,525.2" stroke="#ff1a1a" stroke-width="1.14"/><polyline points="17.5,458 19.6,460.1 20.9,467.8 22.3,474 23.7,478.9 25.1,484 27.2,488.25 33.4,488.9 35.5,494.5 41.8,495.9 43.9,500.75 52.9,502.8 58.4,505.6 61.9,509.8 65.4,516.7 69.6,521.6 77.6,522.8 81.6,525.2 86.4,528.1 94.4,529.2 96.8,532.4 104,534 113.6,535.1 133.5,535.5" stroke="#1f1fff" stroke-width="1.14"/><polyline points="17.5,444.9 17.9,458 19.6,458.75 30,458.75 30.4,469.2 48,469.6 48.7,471.25 74,471.9 133.5,471.9" stroke="#22e8e8" stroke-width="1.06"/></g><rect x="17.5" y="444.4" width="115" height="91.35" fill="none" stroke="#888888" stroke-width="0.5"/><text class="t" x="17.5" y="540.95" text-anchor="middle">0</text><text class="t" x="29" y="540.95" text-anchor="middle">100</text><text class="t" x="40.5" y="540.95" text-anchor="middle">200</text><text class="t" x="52" y="540.95" text-anchor="middle">300</text><text class="t" x="63.5" y="540.95" text-anchor="middle">400</text><text class="t" x="75" y="540.95" text-anchor="middle">500</text><text class="t" x="86.5" y="540.95" text-anchor="middle">600</text><text class="t" x="98" y="540.95" text-anchor="middle">700</text><text class="t" x="109.5" y="540.95" text-anchor="middle">800</text><text class="t" x="121" y="540.95" text-anchor="middle">900</text><text class="t" x="132.5" y="540.95" text-anchor="middle">1000</text><text class="t" x="16.3" y="496.3" text-anchor="end">10<tspan dy="-1.4" font-size="2.4">3</tspan></text><path d="M17.5 535.75v-1.1M17.5 444.4v1.1M29 535.75v-1.1M29 444.4v1.1M40.5 535.75v-1.1M40.5 444.4v1.1M52 535.75v-1.1M52 444.4v1.1M63.5 535.75v-1.1M63.5 444.4v1.1M75 535.75v-1.1M75 444.4v1.1M86.5 535.75v-1.1M86.5 444.4v1.1M98 535.75v-1.1M98 444.4v1.1M109.5 535.75v-1.1M109.5 444.4v1.1M121 535.75v-1.1M121 444.4v1.1M132.5 535.75v-1.1M132.5 444.4v1.1M17.5 494.3h1.1M132.5 494.3h-1.1" stroke="#888888" stroke-width="0.5" fill="none"/><text class="b" x="75" y="546.15" text-anchor="middle">Iteration Number</text><text class="b ti" x="75" y="442.9" text-anchor="middle">R5</text><text class="b" x="9" y="490.07" text-anchor="middle" transform="rotate(-90 9 490.07)">Best Score</text></g>
<g><clipPath id="c13"><rect x="169.2" y="447.5" width="110.1" height="86.75"/></clipPath><g clip-path="url(#c13)" fill="none" stroke-linejoin="round" stroke-linecap="butt"><polyline points="169.5,500 170.5,508 173,512 180,515 200,517 240,520 280.3,522" stroke="#d8b890" stroke-width="0.7"/><polyline points="169.5,500 170.5,510 174,514 185,516.5 220,518.5 280.3,523" stroke="#e08a2a" stroke-width="0.7"/><polyline points="169.5,502 170.5,512 175,516 190,518 230,521 280.3,524" stroke="#f4a0c8" stroke-width="0.7"/><polyline points="169.5,500 170.5,510 175,514 190,516 230,518 280.3,519" stroke="#8f8fe8" stroke-width="0.7"/><polyline points="169.5,500 170.5,506 176,510 190,513 230,516 280.3,516.5" stroke="#a8c060" stroke-width="0.79"/><polyline points="169.5,500 171,508 178,512 200,515 240,518 280.3,518.5" stroke="#8a8a8a" stroke-width="0.7"/><polyline points="169.5,504 169.9,508 171.6,515 174.3,518.5 179.9,519.9 193.8,520.3 207.7,521.25 222,521.5 263.7,522.1 272,523.5 280.3,525.6" stroke="#ff4dff" stroke-width="0.88"/><polyline points="169.5,500 171.6,503.9 175.7,506.7 179.9,509.4 186.8,512.9 200.7,514.3 207.7,515.7 226,516.1 280.3,516.5" stroke="#f5e400" stroke-width="1.06"/><polyline points="169.5,500 171,507 176,511 190,514.5 230,517 280.3,518" stroke="#4f7f5a" stroke-width="0.79"/><polyline points="169.5,500 169.9,505.3 171.6,506.7 172.25,509.4 179.9,511.5 186.8,512.9 193.8,513.3 202.1,514.3 207.7,515.7 210.4,516.7 222,517.5 247,517.9 249.8,518.9 260.9,519.3 280.3,520" stroke="#1f1fff" stroke-width="1.14"/><polyline points="169.5,497 169.9,498.3 171.6,499.7 172.9,505.3 175.7,508 179.9,510.1 184,512.9 186.8,515.7 191,518.5 199.3,519.9 204.9,522 209,523.3 214.6,525.4 221.6,526.8 226,527.2 234.5,528.3 247,529.7 249.8,531.1 263.7,531.5 280.3,532.5" stroke="#ff1a1a" stroke-width="1.14"/><polyline points="169.5,495 169.5,497.6 172.25,498.3 174.3,499.3 280.3,499.3" stroke="#22e8e8" stroke-width="1.14"/><polyline points="169.7,459 170,479 180.6,482 222,483.6 263.7,484.3 280.3,485.4" stroke="#111111" stroke-width="1.06"/><polyline points="169.4,447.5 169.6,469 172,469 172.5,476.5 177,476.5 181,479.5 183,481.2 222,482.9 263.7,483.6 280.3,484.7" stroke="#22ee22" stroke-width="0.88"/></g><rect x="169.2" y="447.5" width="110.1" height="86.75" fill="none" stroke="#888888" stroke-width="0.5"/><text class="t" x="169.2" y="539.45" text-anchor="middle">0</text><text class="t" x="180.21" y="539.45" text-anchor="middle">100</text><text class="t" x="191.22" y="539.45" text-anchor="middle">200</text><text class="t" x="202.23" y="539.45" text-anchor="middle">300</text><text class="t" x="213.24" y="539.45" text-anchor="middle">400</text><text class="t" x="224.25" y="539.45" text-anchor="middle">500</text><text class="t" x="235.26" y="539.45" text-anchor="middle">600</text><text class="t" x="246.27" y="539.45" text-anchor="middle">700</text><text class="t" x="257.28" y="539.45" text-anchor="middle">800</text><text class="t" x="268.29" y="539.45" text-anchor="middle">900</text><text class="t" x="279.3" y="539.45" text-anchor="middle">1000</text><text class="t" x="168" y="462" text-anchor="end">10<tspan dy="-1.4" font-size="2.4">4</tspan></text><text class="t" x="168" y="499.75" text-anchor="end">10<tspan dy="-1.4" font-size="2.4">3</tspan></text><text class="t" x="168" y="536.25" text-anchor="end">10<tspan dy="-1.4" font-size="2.4">2</tspan></text><path d="M169.2 534.25v-1.1M169.2 447.5v1.1M180.21 534.25v-1.1M180.21 447.5v1.1M191.22 534.25v-1.1M191.22 447.5v1.1M202.23 534.25v-1.1M202.23 447.5v1.1M213.24 534.25v-1.1M213.24 447.5v1.1M224.25 534.25v-1.1M224.25 447.5v1.1M235.26 534.25v-1.1M235.26 447.5v1.1M246.27 534.25v-1.1M246.27 447.5v1.1M257.28 534.25v-1.1M257.28 447.5v1.1M268.29 534.25v-1.1M268.29 447.5v1.1M279.3 534.25v-1.1M279.3 447.5v1.1M169.2 460h1.1M279.3 460h-1.1M169.2 497.75h1.1M279.3 497.75h-1.1M169.2 534.25h1.1M279.3 534.25h-1.1" stroke="#888888" stroke-width="0.5" fill="none"/><text class="b" x="224.25" y="544.65" text-anchor="middle">Iteration Number</text><text class="b ti" x="224.25" y="446" text-anchor="middle">R7</text><text class="b" x="159.6" y="490.88" text-anchor="middle" transform="rotate(-90 159.6 490.88)">Best Score</text></g>
<g><clipPath id="c14"><rect x="310.25" y="444.5" width="114.55" height="92.5"/></clipPath><g clip-path="url(#c14)" fill="none" stroke-linejoin="round" stroke-linecap="butt"><polyline points="310.4,470 312,500 316,508 322,514 335,520 370,523.5 425.8,525" stroke="#d8b890" stroke-width="0.7"/><polyline points="310.4,470 312,502 318,512 328,518 345,522 370,524 425.8,526" stroke="#e08a2a" stroke-width="0.7"/><polyline points="310.4,470 312,504 318,514 330,522 345,526 380,528 425.8,531" stroke="#8f8fe8" stroke-width="0.7"/><polyline points="310.4,470 312,500 318,508 320.8,515 328.2,524 335.6,528.5 350.4,531.5 370,532.5 425.8,533.5" stroke="#b070d0" stroke-width="0.79"/><polyline points="310.4,470 312.5,505 318,510 322,520 330,526 345,529 388,529 395,531 425.8,532.5" stroke="#ff4dff" stroke-width="0.79"/><polyline points="310.4,470 312,500 316,508 324,514 340,520 370,524 425.8,528.5" stroke="#8b5a2b" stroke-width="0.7"/><polyline points="310.4,470 312.7,490.4 316.4,499.3 318.6,505.3 319.3,513 325,518 350,522 425.8,524" stroke="#a8c060" stroke-width="0.7"/><polyline points="310.4,470 311.3,500 312.2,505.3 315,505.6 320.8,506.7 328.2,508.2 343,509 370,509.4 425.8,509.4" stroke="#4f7f5a" stroke-width="0.88"/><polyline points="310.4,480 312,505 313.4,511.2 320.8,514.9 328.2,517.9 343,519.3 370,520.4 425.8,521.3" stroke="#f5e400" stroke-width="1.06"/><polyline points="310.4,490 310.4,500.8 311.9,506.7 314.9,511.2 320.8,515.6 328.2,519.3 335.6,520.8 350.4,522.3 370,523 425.8,523" stroke="#22e8e8" stroke-width="1.06"/><polyline points="310.4,470 311.9,486 313.4,503.8 316.4,507.5 320.8,511.9 325.3,514.1 327.5,517.9 332.7,521.6 343,523.8 366,525.7 395.6,527.5 425.8,530.4" stroke="#111111" stroke-width="1.06"/><polyline points="310.4,470 311.2,486 312.7,508.2 314.9,512.7 317.1,517.9 319.3,521.6 325.3,523.8 329.7,526 335.6,527.5 341.6,528.2 350.4,529.7 357.9,530.4 366,529.7 383.8,531.2 389.7,533.4 395.6,536.2 410.4,536.6 425.8,536.8" stroke="#ff1a1a" stroke-width="1.14"/><polyline points="310.4,444.4 311.9,477 312.7,482.2 314.1,486.7 328.2,488.9 350.4,490.4 359.3,491.9 368,492.1 376.3,492.5 379.1,493.2 402.7,494.2 425.8,495" stroke="#22ee22" stroke-width="1.06"/><polyline points="310.4,451.9 311.2,457 313.4,459.3 320.8,461.5 325.3,463 332.7,464.4 337.1,466.4 346,468.1 348.2,469.6 349,477 356.4,477.8 357.9,487.4 362.3,488.9 368.2,489 369.7,497.9 374.9,500.1 379.3,503.8 381.6,504.5 382.3,508.2 386,509 388.2,514.9 391.9,520.1 395.6,524.5 401.6,526.3 410.4,526.7 425.8,526.7" stroke="#1f1fff" stroke-width="1.14"/></g><rect x="310.25" y="444.5" width="114.55" height="92.5" fill="none" stroke="#888888" stroke-width="0.5"/><text class="t" x="310.25" y="542.2" text-anchor="middle">0</text><text class="t" x="321.7" y="542.2" text-anchor="middle">100</text><text class="t" x="333.16" y="542.2" text-anchor="middle">200</text><text class="t" x="344.62" y="542.2" text-anchor="middle">300</text><text class="t" x="356.07" y="542.2" text-anchor="middle">400</text><text class="t" x="367.52" y="542.2" text-anchor="middle">500</text><text class="t" x="378.98" y="542.2" text-anchor="middle">600</text><text class="t" x="390.44" y="542.2" text-anchor="middle">700</text><text class="t" x="401.89" y="542.2" text-anchor="middle">800</text><text class="t" x="413.35" y="542.2" text-anchor="middle">900</text><text class="t" x="424.8" y="542.2" text-anchor="middle">1000</text><text class="t" x="309.05" y="450.1" text-anchor="end">10<tspan dy="-1.4" font-size="2.4">5</tspan></text><text class="t" x="309.05" y="494.5" text-anchor="end">10<tspan dy="-1.4" font-size="2.4">4</tspan></text><text class="t" x="309.05" y="538.9" text-anchor="end">10<tspan dy="-1.4" font-size="2.4">3</tspan></text><path d="M310.25 537v-1.1M310.25 444.5v1.1M321.7 537v-1.1M321.7 444.5v1.1M333.16 537v-1.1M333.16 444.5v1.1M344.62 537v-1.1M344.62 444.5v1.1M356.07 537v-1.1M356.07 444.5v1.1M367.52 537v-1.1M367.52 444.5v1.1M378.98 537v-1.1M378.98 444.5v1.1M390.44 537v-1.1M390.44 444.5v1.1M401.89 537v-1.1M401.89 444.5v1.1M413.35 537v-1.1M413.35 444.5v1.1M424.8 537v-1.1M424.8 444.5v1.1M310.25 448.1h1.1M424.8 448.1h-1.1M310.25 492.5h1.1M424.8 492.5h-1.1M310.25 536.9h1.1M424.8 536.9h-1.1" stroke="#888888" stroke-width="0.5" fill="none"/><text class="b" x="367.52" y="547.4" text-anchor="middle">Iteration Number</text><text class="b ti" x="367.52" y="443" text-anchor="middle">R8</text><text class="b" x="301.8" y="490.75" text-anchor="middle" transform="rotate(-90 301.8 490.75)">Best Score</text></g>
</g></svg></body></html>
